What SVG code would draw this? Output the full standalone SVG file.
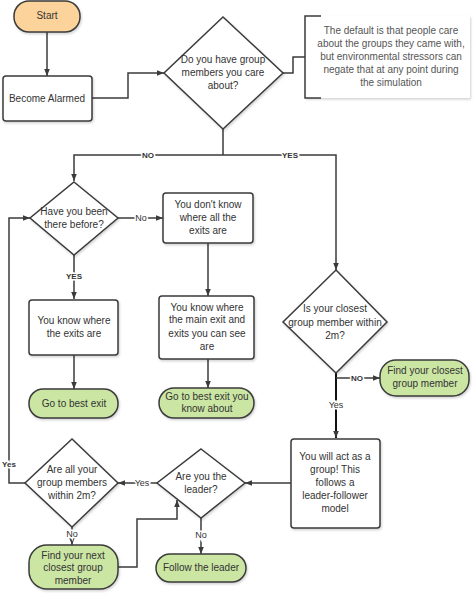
<svg xmlns="http://www.w3.org/2000/svg" width="474" height="594" viewBox="0 0 474 594">
<defs>
<style>
.n{fill:#fff;stroke:#3b3b3b;stroke-width:1.5}
.g{fill:#cbe6a3;stroke:#3b3b3b;stroke-width:1.5}
.o{fill:#fcd39a;stroke:#3b3b3b;stroke-width:1.5}
.t{font-family:"Liberation Sans",Arial,sans-serif;font-size:10px;fill:#333;text-anchor:middle}
.nt{font-family:"Liberation Sans",Arial,sans-serif;font-size:10px;fill:#555;text-anchor:middle}
.c{fill:none;stroke:#3b3b3b;stroke-width:1.5}
.cb{fill:none;stroke:#111;stroke-width:2}
.l{font-family:"Liberation Sans",Arial,sans-serif;font-size:8px;font-weight:bold;fill:#333;text-anchor:middle;stroke:#fff;stroke-width:3px;paint-order:stroke}
.ln{font-family:"Liberation Sans",Arial,sans-serif;font-size:9px;fill:#333;text-anchor:middle;stroke:#fff;stroke-width:3px;paint-order:stroke}
</style>
<marker id="a" viewBox="0 0 10 10" refX="10" refY="5" markerWidth="7" markerHeight="7" markerUnits="userSpaceOnUse" orient="auto"><path d="M0,1 L10,5 L0,9 z" fill="#3b3b3b"/></marker>
<filter id="s" x="-10%" y="-10%" width="125%" height="125%"><feDropShadow dx="1" dy="1.5" stdDeviation="1.2" flood-color="#000" flood-opacity="0.18"/></filter>
</defs>
<rect width="474" height="594" fill="#fff"/>

<g id="connectors">
<path class="c" d="M47,32 V76" marker-end="url(#a)"/>
<path class="c" d="M92,98 H128 V73 H164" marker-end="url(#a)"/>
<path class="c" d="M283,73 H293 V57 H305"/>
<path class="c" d="M223,129 V155"/>
<path class="c" d="M223,155 H74 V181" marker-end="url(#a)"/>
<path class="c" d="M223,155 H336 V270" marker-end="url(#a)"/>
<path class="c" d="M118,218 H163" marker-end="url(#a)"/>
<path class="c" d="M74,255 V299" marker-end="url(#a)"/>
<path class="c" d="M208,243 V296" marker-end="url(#a)"/>
<path class="c" d="M74,355 V389" marker-end="url(#a)"/>
<path class="c" d="M208,359 V388" marker-end="url(#a)"/>
<path class="cb" d="M336,373 V438" marker-end="url(#a)"/>
<path class="c" d="M336,378 H380" marker-end="url(#a)"/>
<path class="c" d="M291,483 H245" marker-end="url(#a)"/>
<path class="c" d="M157,483 H118" marker-end="url(#a)"/>
<path class="c" d="M201,518 V554" marker-end="url(#a)"/>
<path class="c" d="M72,527 V545" marker-end="url(#a)"/>
<path class="c" d="M25,483 H9 V218 H30" marker-end="url(#a)"/>
<path class="c" d="M118,567 H137 V519 H177 V500" marker-end="url(#a)"/>
<text class="l" x="148" y="158">NO</text>
<text class="l" x="290" y="158">YES</text>
<text class="ln" x="141" y="221">No</text>
<text class="l" x="74" y="279">YES</text>
<text class="ln" x="336" y="408">Yes</text>
<text class="l" x="357" y="381">NO</text>
<text class="ln" x="142" y="486">Yes</text>
<text class="ln" x="201" y="538">No</text>
<text class="ln" x="72" y="537">No</text>
<text class="l" x="9" y="467">Yes</text>
</g>

<g id="start"><rect class="o" x="14" y="1" width="66" height="31" rx="15" filter="url(#s)"/><text class="t" x="47" y="19">Start</text></g>
<g id="become-alarmed"><rect class="n" x="3" y="76" width="89" height="45" rx="3" filter="url(#s)"/><text class="t" x="47" y="101.5">Become Alarmed</text></g>
<g id="q-group"><polygon class="n" points="223,17 283,73 223,129 164,73" filter="url(#s)"/>
<text class="t" x="223" y="62.5">Do you have group</text><text class="t" x="223" y="75.5">members you care</text><text class="t" x="223" y="88.5">about?</text></g>
<g id="note"><rect x="305" y="16" width="165" height="82" fill="#fff" filter="url(#s)"/><path class="c" d="M321,16 H305 V98 H321"/>
<text class="nt" x="391" y="33.5">The default is that people care</text><text class="nt" x="391" y="46.5">about the groups they came with,</text><text class="nt" x="391" y="60">but environmental stressors can</text><text class="nt" x="391" y="73">negate that at any point during</text><text class="nt" x="391" y="86">the simulation</text></g>
<g id="q-been"><polygon class="n" points="74,182 118,218 74,255 30,218" filter="url(#s)"/>
<text class="t" x="74" y="215">Have you been</text><text class="t" x="74" y="227.5">there before?</text></g>
<g id="dont-know"><rect class="n" x="163" y="193" width="90" height="50" rx="3" filter="url(#s)"/>
<text class="t" x="208" y="207.5">You don't know</text><text class="t" x="208" y="220.5">where all the</text><text class="t" x="208" y="233.5">exits are</text></g>
<g id="know-exits"><rect class="n" x="29" y="300" width="89" height="55" rx="3" filter="url(#s)"/>
<text class="t" x="74" y="323.5">You know where</text><text class="t" x="74" y="336.5">the exits are</text></g>
<g id="know-main"><rect class="n" x="159" y="296" width="95" height="63" rx="3" filter="url(#s)"/>
<text class="t" x="207" y="310.5">You know where</text><text class="t" x="207" y="323">the main exit and</text><text class="t" x="207" y="336.5">exits you can see</text><text class="t" x="207" y="349.5">are</text></g>
<g id="best-exit"><rect class="g" x="29" y="389" width="89" height="29" rx="14" filter="url(#s)"/><text class="t" x="74" y="406.5">Go to best exit</text></g>
<g id="best-known"><rect class="g" x="159" y="388" width="95" height="30" rx="15" filter="url(#s)"/>
<text class="t" x="207" y="399.5">Go to best exit you</text><text class="t" x="207" y="412">know about</text></g>
<g id="q-closest"><polygon class="n" points="336,270 387,322 336,373 283,322" filter="url(#s)"/>
<text class="t" x="335" y="311.5">Is your closest</text><text class="t" x="335" y="325.5">group member within</text><text class="t" x="335" y="338.5">2m?</text></g>
<g id="find-closest"><rect class="g" x="380" y="360" width="89" height="36" rx="16" filter="url(#s)"/>
<text class="t" x="425" y="373.5">Find your closest</text><text class="t" x="425" y="386.5">group member</text></g>
<g id="act-group"><rect class="n" x="291" y="439" width="89" height="89" rx="3" filter="url(#s)"/>
<text class="t" x="335" y="459.5">You will act as a</text><text class="t" x="335" y="472.5">group! This</text><text class="t" x="335" y="486">follows a</text><text class="t" x="335" y="498.5">leader-follower</text><text class="t" x="335" y="512">model</text></g>
<g id="q-leader"><polygon class="n" points="201,449 245,483 201,518 157,483" filter="url(#s)"/>
<text class="t" x="201" y="479.5">Are you the</text><text class="t" x="201" y="492.5">leader?</text></g>
<g id="follow"><rect class="g" x="156" y="554" width="90" height="28" rx="14" filter="url(#s)"/><text class="t" x="201" y="571">Follow the leader</text></g>
<g id="q-all"><polygon class="n" points="72,439 118,483 72,527 25,483" filter="url(#s)"/>
<text class="t" x="72" y="472.5">Are all your</text><text class="t" x="72" y="486">group members</text><text class="t" x="72" y="499">within 2m?</text></g>
<g id="find-next"><rect class="g" x="29" y="545" width="89" height="44" rx="18" filter="url(#s)"/>
<text class="t" x="73" y="558.5">Find your next</text><text class="t" x="73" y="571">closest group</text><text class="t" x="73" y="584">member</text></g>
</svg>
